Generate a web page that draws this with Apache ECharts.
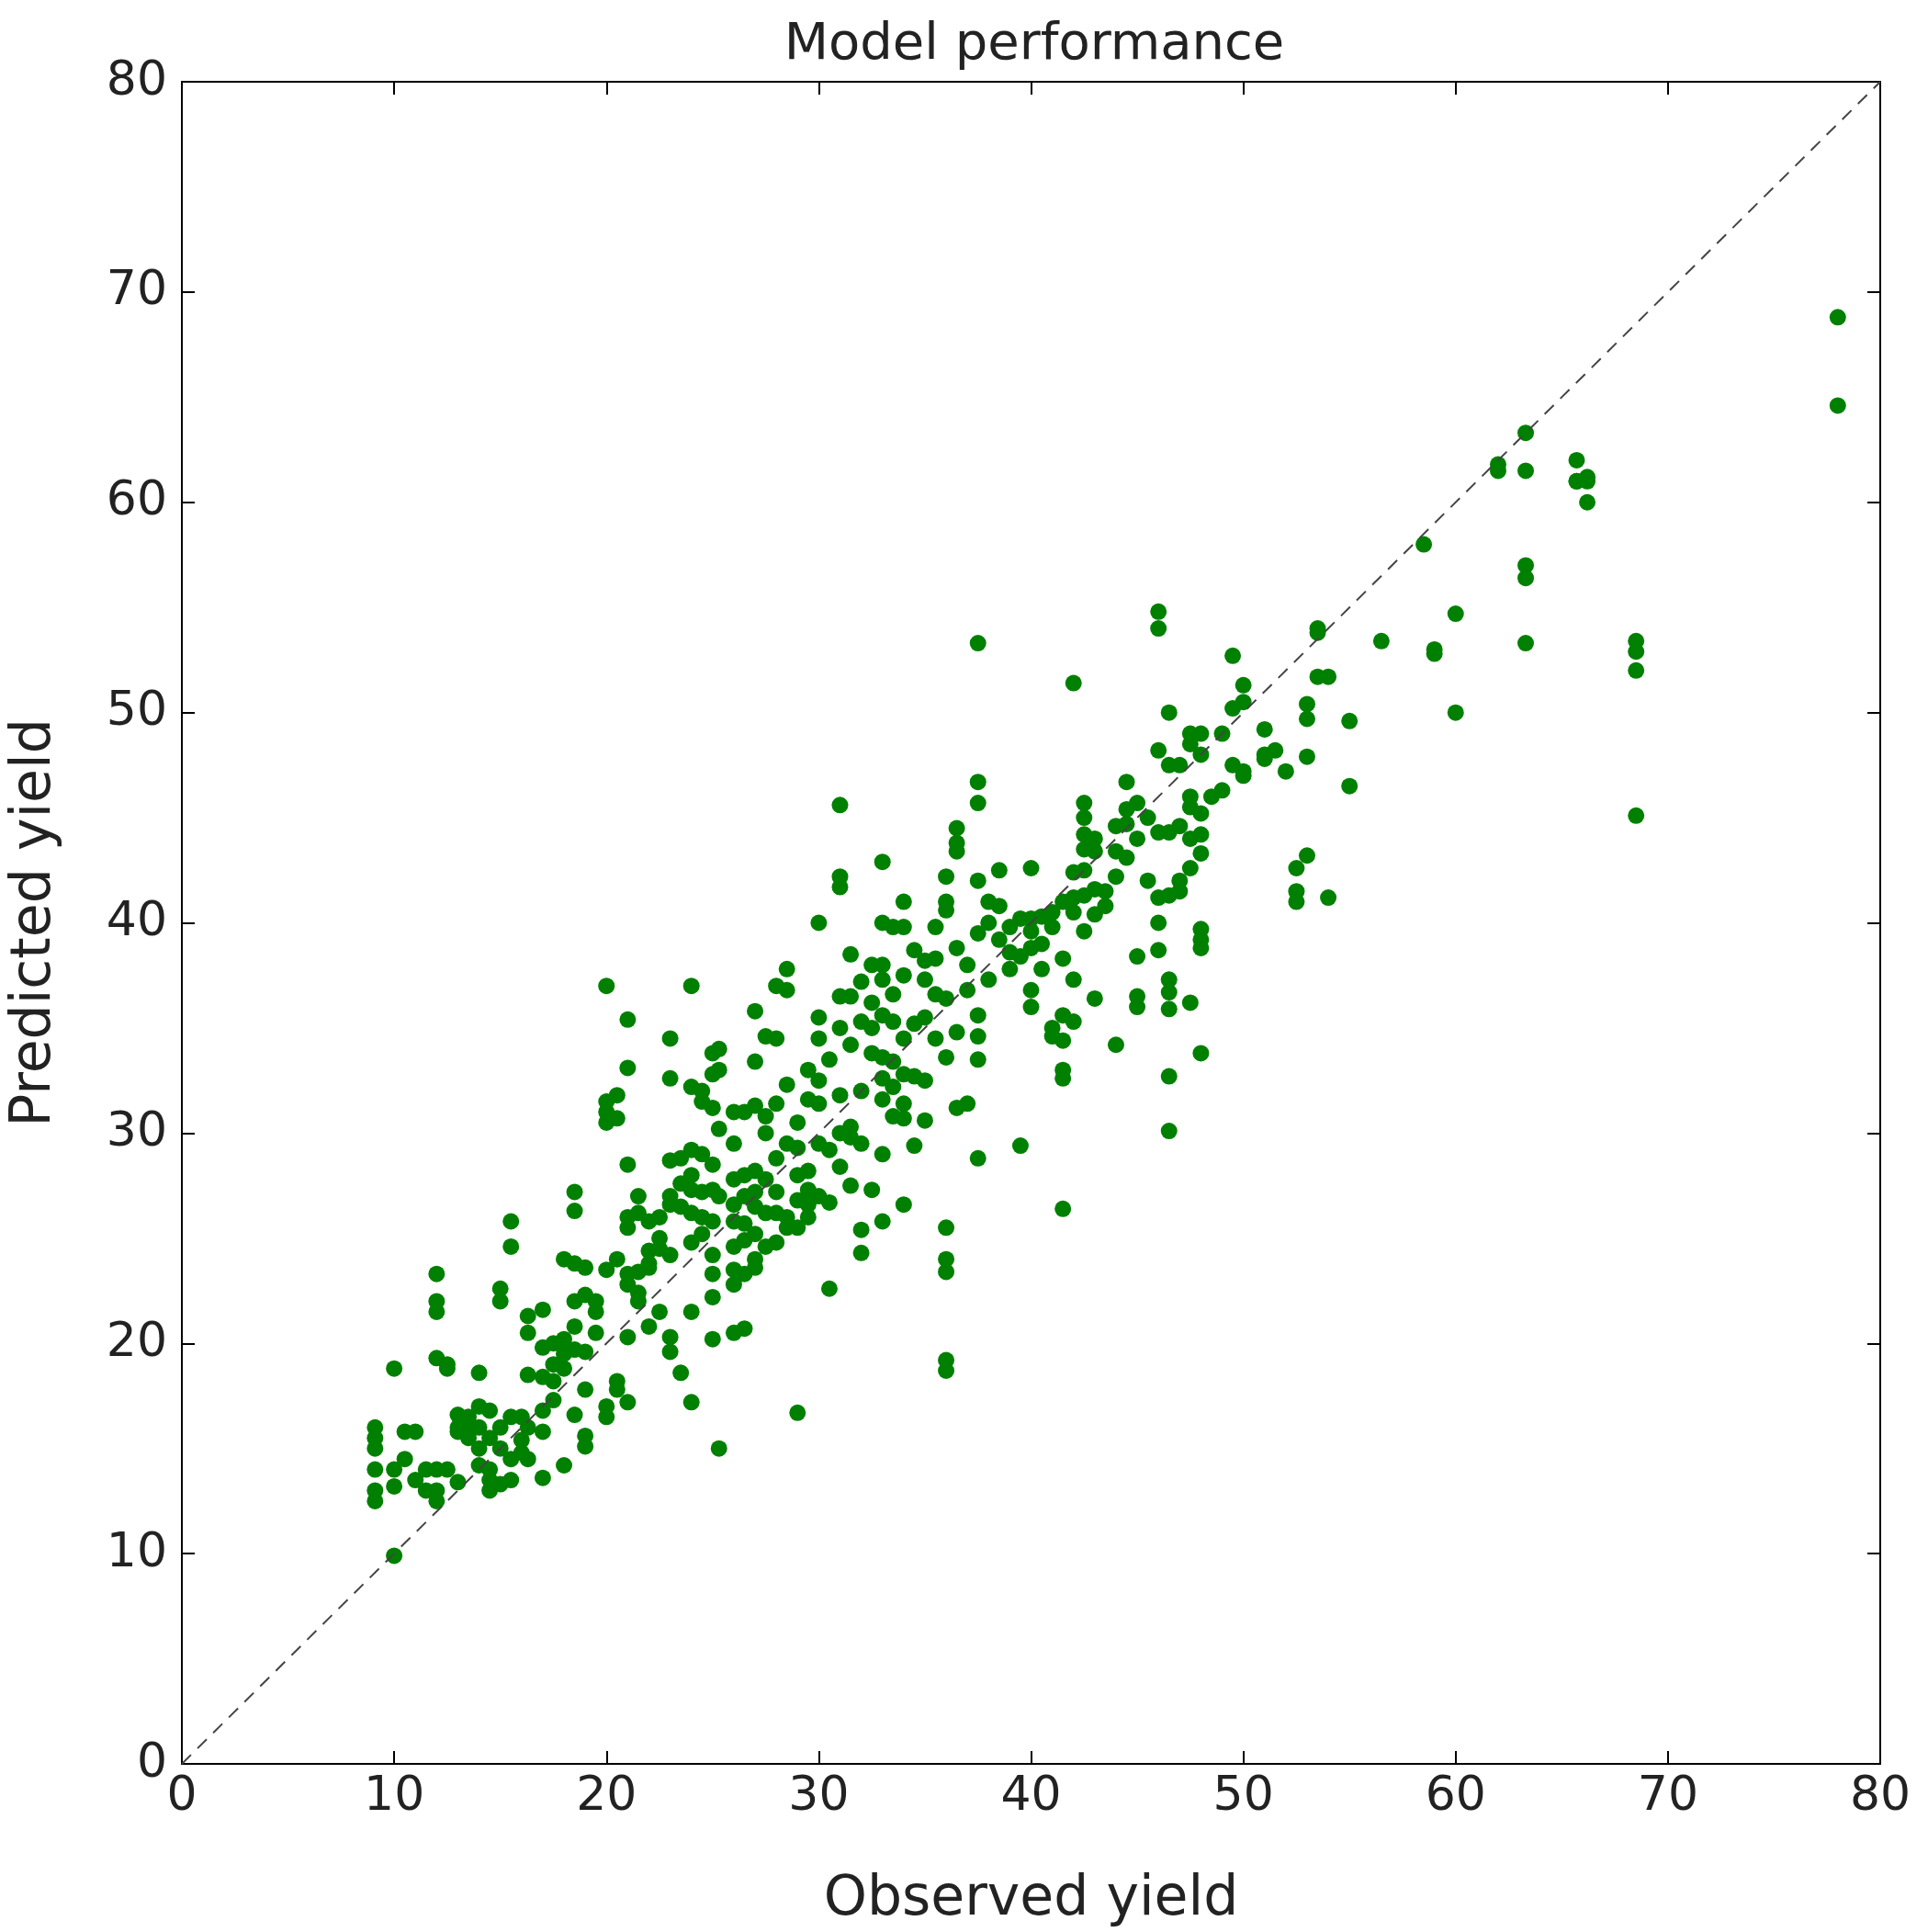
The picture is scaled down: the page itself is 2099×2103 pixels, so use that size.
<!DOCTYPE html>
<html>
<head>
<meta charset="utf-8">
<script src="https://cdn.jsdelivr.net/npm/echarts@6/dist/echarts.min.js"></script>
<style>html,body{margin:0;padding:0;background:#fff}#chart{width:2099px;height:2103px}</style>
</head>
<body>
<div id="chart"></div>
<script>
// observed value of each column of points, and the predicted values in that column
const obsX = [9.1, 10, 10.5, 11, 11.5, 12, 12.5, 13, 13.5, 14, 14.5, 15, 15.5, 16, 16.3, 17, 17.5, 18, 18.5, 19, 19.5,
  20, 20.5, 21, 21.5, 22, 22.5, 23, 23.5, 24, 24.5, 25, 25.3, 26, 26.5, 27, 27.5, 28, 28.5, 29, 29.5,
  30, 30.5, 31, 31.5, 32, 32.5, 33, 33.5, 34, 34.5, 35, 35.5, 36, 36.5, 37, 37.5, 38, 38.5, 39, 39.5,
  40, 40.5, 41, 41.5, 42, 42.5, 43, 43.5, 44, 44.5, 45, 45.5, 46, 46.5, 47, 47.5, 48, 48.5, 49, 49.5,
  50, 51, 51.5, 52, 52.5, 53, 53.5, 54, 55, 56.5, 58.5, 59, 60, 62, 63.3, 65.7, 66.2, 68.5, 78];
const predY = [
  [12.5, 13, 14, 15, 15.5, 16], [18.8, 14, 9.9, 13.2], [14.5, 15.8], [15.8, 13.5], [14, 13],
  [12.5, 13, 22, 21.5, 23.3, 19.3, 14], [18.8, 19, 14], [16, 13.4, 15.8, 16.6], [16.5, 15.5, 16.2],
  [18.6, 16, 15, 14.2, 17], [13, 13.5, 15.5, 16.8, 14], [22.6, 22, 16, 15, 13.3], [25.8, 24.6, 16.5, 14.5, 13.5],
  [15.4, 16.5, 14.8], [21.3, 20.5, 18.5, 16, 14.5], [21.6, 19.8, 18.4, 15.8, 13.6, 16.8], [18.2, 19, 20, 17.3],
  [24, 20.2, 19.5, 14.2, 18.8], [27.2, 26.3, 22, 20.8, 19.7, 16.6, 23.8], [22.3, 15.1, 15.6, 19.6, 17.8, 23.6],
  [21.5, 20.5, 22],
  [37, 31.5, 31, 30.5, 23.5, 16.5, 17], [31.8, 30.7, 17.8, 18.2, 24], [35.4, 33.1, 28.5, 26, 25.5, 23.3, 22.8, 20.3, 17.2],
  [27, 26.2, 22.4, 22, 23.4], [25.8, 24.4, 23.6, 20.8, 23.8], [26, 25, 21.5, 24.5],
  [34.5, 32.6, 28.7, 27, 24.2, 20.3, 19.6, 26.6], [28.8, 27.6, 26.5, 18.6],
  [37, 32.2, 28, 27.3, 26.2, 24.8, 21.5, 17.2, 29.2], [32, 29, 27.2, 26, 25.2, 31.5],
  [33.8, 32.8, 31.2, 28.5, 27.3, 25.8, 24.2, 23.3, 22.2, 20.2], [34, 33, 30.2, 27, 15],
  [31, 29.5, 27.8, 26.6, 25.8, 24.6, 23.5, 20.5, 22.8], [31, 28, 27, 25.7, 24.9, 23.3, 20.7],
  [35.8, 33.4, 31.3, 28.2, 27.2, 26.5, 25.2, 24, 23.6], [34.6, 30.8, 30, 27.8, 26.2, 24.6],
  [37, 34.5, 31.4, 28.8, 27.2, 26.2, 24.8], [37.8, 36.8, 32.3, 29.5, 26, 25.5], [29.3, 28, 26.8, 16.7, 30.5, 25.5],
  [33, 31.6, 28.2, 27.3, 26, 26.6],
  [40, 35.5, 34.5, 32.5, 29.5, 27, 31.4], [33.5, 29.2, 22.6, 26.7], [45.6, 42.2, 41.7, 36.5, 35, 31.8, 30, 28.4],
  [38.5, 36.5, 34.2, 30.3, 27.5, 29.8], [37.2, 35.3, 32, 29.5, 25.4, 24.3], [38, 36.2, 35, 33.8, 27.3],
  [42.9, 40, 38, 37.3, 35.6, 33.6, 32.6, 31.6, 29, 25.8], [39.8, 36.6, 35.3, 33.4, 32.2, 30.8],
  [41, 39.8, 37.5, 34.5, 32.8, 31.4, 30.7, 26.6], [38.7, 35.2, 32.7, 29.4], [38.2, 37.3, 35.5, 32.5, 30.6],
  [39.8, 38.3, 36.6, 34.5], [42.2, 41, 40.6, 36.4, 33.6, 25.5, 24, 23.4, 19.2, 18.7],
  [44.5, 43.8, 43.4, 38.8, 34.8, 31.2], [38, 36.8, 31.4], [53.3, 46.7, 45.7, 42, 39.5, 35.6, 28.8, 34.6, 33.5],
  [41, 40, 37.3], [42.5, 40.8, 39.2], [39.8, 38.6, 37.8], [40.2, 38.4, 29.4],
  [42.6, 40.2, 39.6, 38.8, 36.8, 36], [40.3, 39, 37.8], [40.5, 39.8, 35, 34.6],
  [41, 38.3, 35.6, 34.4, 26.4, 33, 32.6], [51.4, 42.4, 41.2, 40.5, 37.3, 35.3],
  [45.7, 45, 44.2, 43.5, 42.5, 41.3, 39.6], [44, 43.4, 41.6, 40.4, 36.4], [41.5, 40.8], [44.6, 43.4, 42.2, 34.2],
  [46.7, 45.4, 44.7, 43.1], [45.7, 44, 38.4, 36.5, 36], [45, 42], [54.8, 54, 48.2, 44.3, 41.2, 40, 38.7],
  [50, 47.5, 44.3, 41.3, 37.3, 36.7, 35.9, 32.7, 30.1], [47.5, 44.6, 42, 41.5],
  [49, 48.5, 46, 45.5, 44, 42.6, 36.2], [49, 48, 45.2, 44.2, 43.3, 39.2, 39.7, 38.8, 33.8], [46], [46.3, 49],
  [52.7, 50.2, 47.5],
  [51.3, 50.5, 47, 47.2], [49.2, 48, 47.8], [48.2], [47.2], [42.6, 41.5, 41], [50.4, 49.7, 47.9, 43.2],
  [54, 53.8, 51.7], [51.7, 41.2], [49.6, 46.5], [53.4], [58], [53, 52.8], [54.7, 50], [61.8, 61.5],
  [63.3, 61.5, 57, 56.4, 53.3], [62, 61, 61], [61.2, 61, 60], [53.4, 52.9, 52, 45.1], [68.8, 64.6]];
const axisTicks = [0, 10, 20, 30, 40, 50, 60, 70, 80];
const diagonal = [[0, 0], [80, 80]];

const points = [];
obsX.forEach((x, i) => predY[i].forEach(y => points.push([x, y])));

const font = 'DejaVu Sans';
const baseAxis = {
  type: 'value', min: 0, max: 80, interval: 10,
  axisLine: { show: true, onZero: false, lineStyle: { color: '#000', width: 2 } },
  axisTick: { show: true, inside: true, length: 14, lineStyle: { color: '#000', width: 2 } },
  splitLine: { show: false }
};
const myChart = echarts.init(document.getElementById('chart'));
myChart.setOption({
  backgroundColor: '#fff',
  animation: false,
  title: {
    text: 'Model performance', left: 1121, top: 16, textAlign: 'center',
    textStyle: { fontFamily: font, fontWeight: 'normal', fontSize: 56, color: '#222' }
  },
  grid: { left: 195, right: 52, top: 89, bottom: 169 },
  xAxis: [
    Object.assign({}, baseAxis, {
      position: 'bottom', name: 'Observed yield', nameLocation: 'middle', nameGap: 118,
      nameTextStyle: { fontFamily: font, fontSize: 60, color: '#222' },
      axisLabel: { fontFamily: font, fontSize: 52, color: '#222', margin: 10 }
    }),
    Object.assign({}, baseAxis, { position: 'top', axisLabel: { show: false } })
  ],
  yAxis: [
    Object.assign({}, baseAxis, {
      position: 'left', name: 'Predicted yield', nameLocation: 'middle', nameGap: 130,
      nameTextStyle: { fontFamily: font, fontSize: 60, color: '#222' },
      axisLabel: { fontFamily: font, fontSize: 52, color: '#222', margin: 16,
        formatter: v => axisTicks.includes(v) ? String(v) : '' }
    }),
    Object.assign({}, baseAxis, { position: 'right', axisLabel: { show: false } })
  ],
  series: [
    {
      type: 'line', data: diagonal, symbol: 'none', silent: true,
      lineStyle: { color: '#444', width: 2, type: [14, 10] }
    },
    {
      type: 'scatter', data: points, symbolSize: 18,
      itemStyle: { color: '#008000', opacity: 1 }
    }
  ]
});
</script>
</body>
</html>
